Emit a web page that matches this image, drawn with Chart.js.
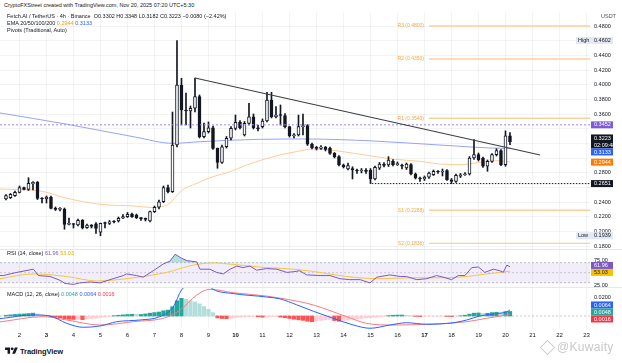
<!DOCTYPE html>
<html>
<head>
<meta charset="utf-8">
<title>FETUSDT 4h</title>
<script src="https://cdn.jsdelivr.net/npm/chart.js@4.4.1/dist/chart.umd.min.js"></script>
<style>
  html, body { margin: 0; padding: 0; background: #fff; }
  body { width: 622px; height: 363px; position: relative; overflow: hidden;
         font-family: "Liberation Sans", Arial, sans-serif; color: #131722; }
  canvas { position: absolute; left: 0; }
  .t { position: absolute; white-space: nowrap; font-size: 5.5px; line-height: 7px; z-index: 2; }
  .sep { position: absolute; left: 0; width: 622px; height: 1px; background: #e6e8ee; }
</style>
</head>
<body>
<canvas id="main" width="622" height="238" style="top:12px"></canvas>
<canvas id="rsi" width="622" height="38" style="top:250px"></canvas>
<canvas id="macd" width="622" height="57" style="top:288px"></canvas>
<div class="sep" style="top:249px"></div>
<div class="sep" style="top:287px"></div>

<div class="t" style="left:4px;top:2px">CryptoFXStreet created with TradingView.com, Nov 20, 2025 07:20 UTC+5:30</div>
<div class="t" style="left:7px;top:13px">Fetch.AI / TetherUS · 4h · Binance&nbsp; O0.3302 H0.3348 L0.3182 C0.3223 −0.0080 (−2.42%)</div>
<div class="t" style="left:7px;top:20px">EMA 20/50/100/200 <span style="color:#ff9800">0.2944</span> <span style="color:#2962ff">0.3133</span></div>
<div class="t" style="left:7px;top:27px">Pivots (Traditional, Auto)</div>
<div class="t" style="left:601px;top:13px;color:#50535e">USDT</div>
<div class="t" style="left:7px;top:250px">RSI (14, close) <span style="color:#7e57c2">61.96</span> <span style="color:#e0b000">53.03</span></div>
<div class="t" style="left:7px;top:291px">MACD (12, 26, close) <span style="color:#26a69a">0.0048</span> <span style="color:#2962ff">0.0064</span> <span style="color:#f23645">0.0016</span></div>

<div style="position:absolute;left:5px;top:346px;display:flex;align-items:center;gap:2px">
  <svg width="13" height="10" viewBox="0 0 36 28"><path d="M14 22H7V11H0V4h14v18z" fill="#131722"/><circle cx="20" cy="8" r="4" fill="#131722"/><path d="M28 22h-8l7.5-18h8z" fill="#131722"/></svg>
  <span style="font-weight:bold;font-size:7.5px;letter-spacing:-0.1px">TradingView</span>
</div>
<div style="position:absolute;left:542px;top:340px;display:flex;align-items:center;gap:4px;color:#c9c9c9">
  <div style="width:9px;height:9px;border:1px solid #cfcfcf;transform:rotate(45deg)"></div>
  <span style="font-size:12px;letter-spacing:0.3px">@Kuwaity</span>
</div>

<script>
// ---- values (4h candles, Nov 1 13:30 -> Nov 20 05:30) ----
const opens = [0.2441,0.2459,0.2486,0.2532,0.2595,0.2573,0.2645,0.2669,0.2450,0.2441,
  0.2464,0.2314,0.2300,0.2305,0.2096,0.2104,0.2086,0.2150,0.2050,0.2086,
  0.2104,0.1990,0.2110,0.2107,0.2131,0.2141,0.2178,0.2200,0.2236,0.2223,
  0.2186,0.2168,0.2141,0.2268,0.2328,0.2404,0.2595,0.2540,0.3177,0.3996,
  0.3655,0.3641,0.3678,0.3836,0.3291,0.3359,0.3413,0.3132,0.2941,0.3154,
  0.3269,0.3405,0.3487,0.3314,0.3473,0.3563,0.3413,0.3427,0.3505,0.3791,
  0.3563,0.3586,0.3580,0.3427,0.3304,0.3314,0.3427,0.3441,0.3187,0.3141,
  0.3132,0.3150,0.3132,0.3064,0.3018,0.2905,0.2850,0.2857,0.2836,0.2823,
  0.2832,0.2836,0.2714,0.2860,0.2918,0.2905,0.2955,0.2909,0.2905,0.2864,
  0.2909,0.2782,0.2727,0.2714,0.2737,0.2772,0.2819,0.2809,0.2827,0.2704,
  0.2682,0.2751,0.2772,0.2782,0.3000,0.3045,0.3000,0.2887,0.2955,0.3045,
  0.3100,0.2909,0.3302];
const highs = [0.2502,0.2516,0.2550,0.2618,0.2605,0.2731,0.2680,0.2680,0.2461,0.2482,
  0.2482,0.2332,0.2325,0.2318,0.2182,0.2107,0.2168,0.2161,0.2100,0.2093,
  0.2120,0.2113,0.2127,0.2148,0.2148,0.2195,0.2230,0.2257,0.2250,0.2236,
  0.2189,0.2182,0.2277,0.2345,0.2427,0.2618,0.2632,0.3627,0.4602,0.4087,
  0.3886,0.3709,0.4091,0.3859,0.3477,0.3491,0.3436,0.3136,0.3177,0.3293,
  0.3430,0.3586,0.3511,0.3498,0.3746,0.3600,0.3450,0.3532,0.3896,0.3896,
  0.3700,0.3723,0.3607,0.3430,0.3334,0.3586,0.3600,0.3455,0.3205,0.3157,
  0.3171,0.3157,0.3150,0.3075,0.3034,0.2918,0.2932,0.2881,0.2850,0.2857,
  0.2857,0.2857,0.2891,0.2939,0.2939,0.3018,0.2980,0.2946,0.2918,0.2932,
  0.2925,0.2796,0.2741,0.2755,0.2809,0.2836,0.2830,0.2850,0.2843,0.2720,
  0.2782,0.2789,0.2802,0.3020,0.3250,0.3068,0.3014,0.2973,0.3061,0.3127,
  0.3116,0.3370,0.3348];
const lows = [0.2427,0.2448,0.2475,0.2523,0.2564,0.2557,0.2564,0.2434,0.2386,0.2386,
  0.2305,0.2284,0.2277,0.2028,0.2086,0.2045,0.2073,0.2032,0.2039,0.2045,
  0.1973,0.1939,0.2045,0.2093,0.2114,0.2127,0.2175,0.2189,0.2189,0.2175,
  0.2148,0.2141,0.2127,0.2257,0.2305,0.2393,0.2523,0.2530,0.3150,0.3450,
  0.3450,0.3409,0.3627,0.3273,0.3273,0.3341,0.3116,0.2860,0.2925,0.3136,
  0.3246,0.3382,0.3396,0.3300,0.3450,0.3396,0.3368,0.3409,0.3491,0.3546,
  0.3546,0.3450,0.3409,0.3286,0.3273,0.3300,0.3314,0.3171,0.3123,0.3109,
  0.3116,0.3096,0.3048,0.3000,0.2891,0.2864,0.2836,0.2714,0.2789,0.2796,
  0.2789,0.2651,0.2700,0.2843,0.2877,0.2884,0.2891,0.2898,0.2850,0.2843,
  0.2768,0.2714,0.2682,0.2693,0.2720,0.2761,0.2789,0.2755,0.2693,0.2651,
  0.2666,0.2734,0.2761,0.2768,0.2980,0.2959,0.2870,0.2819,0.2939,0.3027,
  0.2895,0.2887,0.3182];
const closes = [0.2486,0.2505,0.2532,0.2595,0.2573,0.2655,0.2669,0.2450,0.2441,0.2468,
  0.2314,0.2300,0.2305,0.2096,0.2104,0.2093,0.2150,0.2050,0.2086,0.2066,
  0.2041,0.2110,0.2107,0.2131,0.2127,0.2178,0.2200,0.2232,0.2200,0.2186,
  0.2168,0.2164,0.2268,0.2328,0.2404,0.2595,0.2540,0.3177,0.3996,0.3655,
  0.3641,0.3678,0.3836,0.3291,0.3359,0.3413,0.3132,0.2941,0.3154,0.3269,
  0.3405,0.3487,0.3413,0.3473,0.3563,0.3413,0.3396,0.3505,0.3791,0.3563,
  0.3586,0.3580,0.3427,0.3304,0.3314,0.3427,0.3441,0.3187,0.3141,0.3132,
  0.3150,0.3116,0.3064,0.3018,0.2905,0.2881,0.2895,0.2836,0.2823,0.2832,
  0.2816,0.2714,0.2873,0.2918,0.2898,0.2973,0.2909,0.2925,0.2887,0.2918,
  0.2782,0.2727,0.2714,0.2737,0.2796,0.2819,0.2809,0.2823,0.2704,0.2682,
  0.2764,0.2772,0.2782,0.3000,0.3045,0.2977,0.2887,0.2955,0.3045,0.3100,
  0.2909,0.3302,0.3223];

// EMA lines, read as [candle index, price]
const emaFast = [[-1.33,0.2577],[7.6,0.2550],[13.6,0.2450],[20.9,0.2369],[28.7,0.2345],[32.4,0.2325],
  [36.4,0.2382],[38.7,0.2540],[42.4,0.2655],[46,0.2745],[49.8,0.2813],[53.5,0.2905],[57.6,0.2986],
  [60.9,0.3041],[65.3,0.3096],[68.2,0.3123],[72,0.3109],[78.7,0.3051],[86.4,0.2982],[92,0.2955],
  [96.4,0.2918],[100.9,0.2909],[105.3,0.2941],[109.8,0.2963],[112,0.2944]];
const emaSlow = [[-1.33,0.3614],[13.6,0.3460],[28.7,0.3286],[37.1,0.3200],[43.1,0.3222],[56.4,0.3255],
  [66.9,0.3259],[81.6,0.3232],[96.4,0.3177],[111.3,0.3132],[112,0.3133]];

// RSI and its moving average
const rsiPts = [[-1.33,44.3],[-0.6,44.3],[2.4,50.6],[6.1,57],[7.2,44.3],[9.8,42.4],[12,34.8],[13.1,28.5],
  [15,26.6],[16.4,29.6],[18.7,31.5],[20.9,29.6],[23.1,36.1],[26.1,44.3],[26.8,47.5],[29,44.3],[30.5,41],
  [32.7,53.8],[35,67.7],[36.4,72.9],[37.6,86.8],[39,79.1],[40.2,74.2],[42.4,71.5],[43.1,57],[45.3,57],
  [46.8,50.6],[48.3,47.5],[49.8,57],[51.3,63.3],[52.7,60.1],[54.2,63.3],[55.7,55.1],[57.9,58.2],[60.2,57],
  [62.4,50.6],[63.8,51.9],[65.3,53.8],[66.8,45.6],[69.8,44.3],[72,44.3],[74.2,38],[76.4,36.1],[78.7,36.1],
  [80.9,29.6],[82.4,41],[85.3,45.6],[87.6,42.4],[89,42.4],[91.3,36.1],[93.5,38],[95.7,44.3],[97.2,41],
  [99,36.1],[100.5,44.3],[102,44.3],[103.5,60.1],[105,61.4],[106.4,50.6],[108.3,57],[109.8,53.8],
  [110.5,50.6],[111.3,65.2],[112,61.96]];
const rsiMaPts = [[-1.33,38],[6.1,47.5],[13.5,42.4],[20.2,33.4],[28.3,39.9],[35.7,50.6],[41.6,65.2],
  [46.1,69.6],[50.5,66.6],[57.9,60.1],[60.9,59],[63.8,57],[68.3,52.5],[75.7,42.4],[83.1,38],[90.5,39.9],
  [97.9,39.9],[102.4,42.4],[106.8,47.5],[112,53.03]];

// MACD (12, 26)
const macdPts = [[-1.33,-0.0028],[-0.6,-0.0024],[6,0.0011],[9.8,0.0],[13.5,-0.0077],[17.2,-0.0119],
  [20.9,-0.0105],[24.6,-0.0060],[29.8,-0.0042],[34.2,-0.0007],[37.2,0.0098],[39,0.0274],[40.9,0.0335],
  [43.1,0.0350],[45.3,0.0310],[46,0.0281],[50.5,0.0236],[57.9,0.0200],[60.9,0.0180],[64.6,0.0118],
  [68.3,0.0050],[72.7,-0.0024],[77.2,-0.0095],[80.9,-0.0129],[85.3,-0.0095],[89,-0.0071],[93.5,-0.0087],
  [99.4,-0.0071],[102.4,-0.0042],[105.3,0.0],[108.3,0.0021],[111.3,0.0045],[112,0.0064]];
const signalPts = [[-1.33,-0.0062],[8.3,-0.0007],[13.5,-0.0042],[20.9,-0.0095],[28.3,-0.0060],
  [35.7,-0.0014],[38.7,0.0063],[42.4,0.0221],[45.3,0.0281],[50.5,0.0245],[57.9,0.0210],[65.3,0.0150],
  [68.3,0.0116],[75.7,-0.0007],[80.1,-0.0077],[86.1,-0.0095],[93.5,-0.0087],[102.4,-0.0060],
  [106.8,-0.0024],[112,0.0016]];
const histVals = [0.0008,0.0012,0.0016,0.0020,0.0022,0.0026,0.0030,0.0022,0.0012,0.0004,
  -0.0008,-0.0014,-0.0020,-0.0030,-0.0034,-0.0036,-0.0035,-0.0038,-0.0032,-0.0027,
  -0.0024,-0.0016,-0.0012,-0.0006,0.0003,0.0008,0.0012,0.0016,0.0018,0.0016,
  0.0016,0.0022,0.0030,0.0036,0.0042,0.0055,0.0062,0.0098,0.0160,0.0186,
  0.0176,0.0162,0.0148,0.0128,0.0100,0.0070,0.0036,-0.0020,-0.0026,-0.0028,
  -0.0024,-0.0018,-0.0012,-0.0010,-0.0006,-0.0004,-0.0008,-0.0012,-0.0010,-0.0006,
  -0.0004,-0.0012,-0.0018,-0.0026,-0.0034,-0.0040,-0.0046,-0.0055,-0.0060,-0.0052,
  -0.0046,-0.0040,-0.0036,-0.0048,-0.0055,-0.0050,-0.0042,-0.0036,-0.0030,-0.0026,
  -0.0020,-0.0018,-0.0012,-0.0008,-0.0004,0.0004,0.0008,0.0010,0.0010,0.0006,
  0.0003,-0.0004,-0.0006,-0.0004,-0.0003,-0.0002,-0.0002,-0.0001,-0.0004,-0.0006,
  -0.0003,0.0002,0.0008,0.0020,0.0030,0.0032,0.0026,0.0028,0.0036,0.0040,
  0.0032,0.0046,0.0048];

// axis labels and drawn levels
const dayLabels = [2,3,4,5,6,7,8,9,10,11,12,13,14,15,16,17,18,19,20,21,22,23];
const boldDays = [3,10,17];
const priceTicks = [0.18,0.20,0.22,0.24,0.26,0.28,0.30,0.32,0.34,0.36,0.38,0.40,0.42,0.44,0.46,0.48];
const pivotNames = ['R3','R2','R1','S1','S2'];
const pivotValues = [0.4800,0.4350,0.3543,0.2288,0.1836];
const pivotFrom = 94;
const alertLevel = 0.3452;
const supportLevel = 0.2651, supportFrom = 81.3;
const trendLine = [[42,0.4091],[118.7,0.3041]];

// ---- drawing ----
const INK = '#131722';
const GRID = 'rgba(42,46,57,0.06)';
const FONT = '"Liberation Sans", Arial, sans-serif';
Chart.defaults.font.family = FONT;
Chart.defaults.font.size = 5.5;
Chart.defaults.color = INK;

const X_MIN = -1.33, X_MAX = 129.78;
const dayPos = d => (d - 1.5) * 6;   // candle index of the first candle of day d

function xScale(showLabels) {
  return {
    type: 'linear', min: X_MIN, max: X_MAX, offset: false,
    grid: { color: GRID, drawTicks: false, offset: false },
    border: { display: false },
    afterBuildTicks: s => { s.ticks = dayLabels.map(d => ({ value: dayPos(d) })); },
    ticks: {
      display: showLabels, autoSkip: false, maxRotation: 0, padding: 3,
      font: c => ({ size: 6, weight: boldDays.includes(dayLabels[c.index]) ? 'bold' : 'normal' }),
      callback: (v, i) => String(dayLabels[i])
    },
    afterFit: s => { s.height = showLabels ? 16 : 0; s.paddingLeft = 0; s.paddingRight = 0; }
  };
}

function yScale(min, max, ticks, label, gridOn) {
  return {
    position: 'right', min: min, max: max,
    grid: { display: gridOn, color: GRID, drawTicks: false },
    border: { display: false },
    afterBuildTicks: s => { s.ticks = ticks.map(v => ({ value: v })); },
    ticks: { padding: 4, autoSkip: false, callback: label },
    afterFit: s => { s.width = 32; s.paddingTop = 0; s.paddingBottom = 0; }
  };
}

function line(pts, color, order, width, extra) {
  return Object.assign({
    type: 'line', data: pts.map(p => ({ x: p[0], y: p[1] })),
    borderColor: color, borderWidth: width || 1, pointRadius: 0,
    cubicInterpolationMode: 'monotone', fill: false, order: order
  }, extra || {});
}

function hline(v, x0, x1, color, dash, width, order, extra) {
  return line([[x0, v], [x1, v]], color, order, width, Object.assign({ borderDash: dash }, extra || {}));
}

// stacks price tags on the right axis so they do not overlap
function layoutTags(tags) {
  tags.sort((a, b) => a.want - b.want);
  const groups = [];
  tags.forEach(t => {
    groups.push({ tags: [t], top: t.want, h: t.h });
    while (groups.length > 1) {
      const a = groups[groups.length - 2], b = groups[groups.length - 1];
      if (a.top + a.h <= b.top) break;
      const all = a.tags.concat(b.tags);
      let off = 0, sum = 0;
      all.forEach(x => { sum += x.want - off; off += x.h; });
      groups.splice(-2, 2, { tags: all, top: sum / all.length, h: off });
    }
  });
  groups.forEach(g => { let y = g.top; g.tags.forEach(t => { t.top = y; y += t.h; }); });
}

function axisTags(list) {
  return {
    id: 'axisTags',
    afterDraw(chart) {
      const ctx = chart.ctx, y = chart.scales.y;
      const tags = list.map(t => Object.assign({}, t, { h: t.sub ? 14 : 7 }));
      tags.forEach(t => { t.want = y.getPixelForValue(t.value) - 3.5; });
      layoutTags(tags);
      ctx.save();
      ctx.font = '5.5px ' + FONT;
      ctx.textBaseline = 'middle';
      tags.forEach(t => {
        ctx.fillStyle = t.bg;
        if (t.prefix) ctx.fillRect(576, t.top, 15, t.h);
        ctx.fillRect(591, t.top, 22, t.h);
        ctx.fillStyle = t.fg;
        if (t.prefix) ctx.fillText(t.prefix, 578, t.top + 3.6);
        ctx.fillText(t.value.toFixed(t.dp || 4), 594, t.top + 3.6);
        if (t.sub) ctx.fillText(t.sub, 594, t.top + 10.6);
      });
      ctx.restore();
    }
  };
}

const pivotText = {
  id: 'pivotText',
  afterDatasetsDraw(chart) {
    const { ctx, scales: { x, y } } = chart;
    ctx.save();
    ctx.font = '5px ' + FONT;
    ctx.fillStyle = '#f5a742';
    ctx.textAlign = 'right';
    ctx.textBaseline = 'middle';
    pivotValues.forEach((v, k) => {
      ctx.fillText(pivotNames[k] + ' (' + v.toFixed(4) + ')', x.getPixelForValue(pivotFrom) - 5, y.getPixelForValue(v));
    });
    ctx.restore();
  }
};

const mainTags = [
  { value: 0.4602, bg: '#e4e8f4', fg: INK, prefix: 'High' },
  { value: alertLevel, bg: '#7e5bd6', fg: '#fff' },
  { value: closes[closes.length - 1], bg: INK, fg: '#fff', sub: '02:09:48' },
  { value: 0.3133, bg: '#2962ff', fg: '#fff' },
  { value: 0.2944, bg: '#ff7a00', fg: '#fff' },
  { value: supportLevel, bg: INK, fg: '#fff' },
  { value: 0.1939, bg: '#e4e8f4', fg: INK, prefix: 'Low' }
];
const tagValues = mainTags.map(t => t.value);

const idx = closes.map((c, i) => i);
const wicks = idx.map(i => ({ x: i, y: [lows[i], highs[i]] }));
const bodies = idx.map(i => ({ x: i, y: [opens[i], closes[i]] }));
const bodyFill = idx.map(i => closes[i] >= opens[i] ? '#ffffff' : INK);

new Chart(document.getElementById('main'), {
  type: 'bar',
  data: { datasets: [
    ...pivotValues.map(v => hline(v, pivotFrom, X_MAX, '#fdcf9b', [], 1.4, 9)),
    line(emaSlow, '#97a2f6', 6),
    line(emaFast, '#ffcb98', 6),
    { type: 'bar', data: wicks, backgroundColor: INK, borderWidth: 0, barThickness: 1, grouped: false, order: 4 },
    { type: 'bar', data: bodies, backgroundColor: bodyFill, borderColor: INK, borderWidth: 1,
      borderSkipped: false, barThickness: 3, minBarLength: 1, grouped: false, order: 3 },
    hline(alertLevel, X_MIN, X_MAX, '#9d87f0', [2, 2], 1, 2),
    hline(supportLevel, supportFrom, X_MAX, INK, [1.5, 1.5], 1, 2),
    line(trendLine, '#3d4047', 1, 1.2, { cubicInterpolationMode: 'default' })
  ]},
  options: {
    responsive: false, animation: false, events: [],
    plugins: { legend: { display: false }, tooltip: { enabled: false } },
    scales: {
      x: xScale(false),
      y: yScale(0.17455, 0.4991, priceTicks,
        v => tagValues.some(t => Math.abs(t - v) < 0.006) ? '' : v.toFixed(4), true)
    }
  },
  plugins: [pivotText, axisTags(mainTags)]
});

new Chart(document.getElementById('rsi'), {
  type: 'line',
  data: { datasets: [
    hline(70, X_MIN, X_MAX, 'rgba(120,123,134,0.6)', [2, 2], 0.8, 5, { fill: '+1', backgroundColor: 'rgba(126,87,194,0.1)' }),
    hline(30, X_MIN, X_MAX, 'rgba(120,123,134,0.6)', [2, 2], 0.8, 5),
    hline(50, X_MIN, X_MAX, 'rgba(120,123,134,0.45)', [2, 2], 0.8, 5),
    line(rsiMaPts, '#f5c542', 2, 1),
    line(rsiPts, '#7e57c2', 1, 1, { cubicInterpolationMode: 'default',
      fill: { target: { value: 70 }, above: 'rgba(38,166,154,0.35)', below: 'rgba(0,0,0,0)' } })
  ]},
  options: {
    responsive: false, animation: false, events: [],
    plugins: { legend: { display: false }, tooltip: { enabled: false } },
    scales: {
      x: xScale(false),
      y: yScale(19.4, 95.4, [75, 25], v => v.toFixed(2), false)
    }
  },
  plugins: [axisTags([
    { value: 61.96, bg: '#7e57c2', fg: '#fff', dp: 2 },
    { value: 53.03, bg: '#f5c400', fg: INK, dp: 2 }
  ])]
});

const histColors = histVals.map((v, i) => {
  const prev = i ? histVals[i - 1] : v;
  if (v >= 0) return v >= prev ? '#26a69a' : '#b2dfdb';
  return v < prev ? '#ff5252' : '#ffcdd2';
});

new Chart(document.getElementById('macd'), {
  type: 'bar',
  data: { datasets: [
    hline(0, X_MIN, X_MAX, 'rgba(120,123,134,0.5)', [2, 2], 0.8, 9),
    { type: 'bar', data: histVals.map((v, i) => ({ x: i, y: v })), backgroundColor: histColors,
      borderWidth: 0, barThickness: 3.6, grouped: false, order: 5 },
    line(signalPts, '#f77c80', 2, 1),
    line(macdPts, '#2962ff', 1, 1)
  ]},
  options: {
    responsive: false, animation: false, events: [],
    plugins: { legend: { display: false }, tooltip: { enabled: false } },
    scales: {
      x: xScale(true),
      y: yScale(-0.01368, 0.02947, [0.02], v => v.toFixed(4), false)
    }
  },
  plugins: [axisTags([
    { value: 0.0064, bg: '#2962ff', fg: '#fff' },
    { value: 0.0048, bg: '#26a69a', fg: '#fff' },
    { value: 0.0016, bg: '#f23645', fg: '#fff' }
  ])]
});
</script>
</body>
</html>
